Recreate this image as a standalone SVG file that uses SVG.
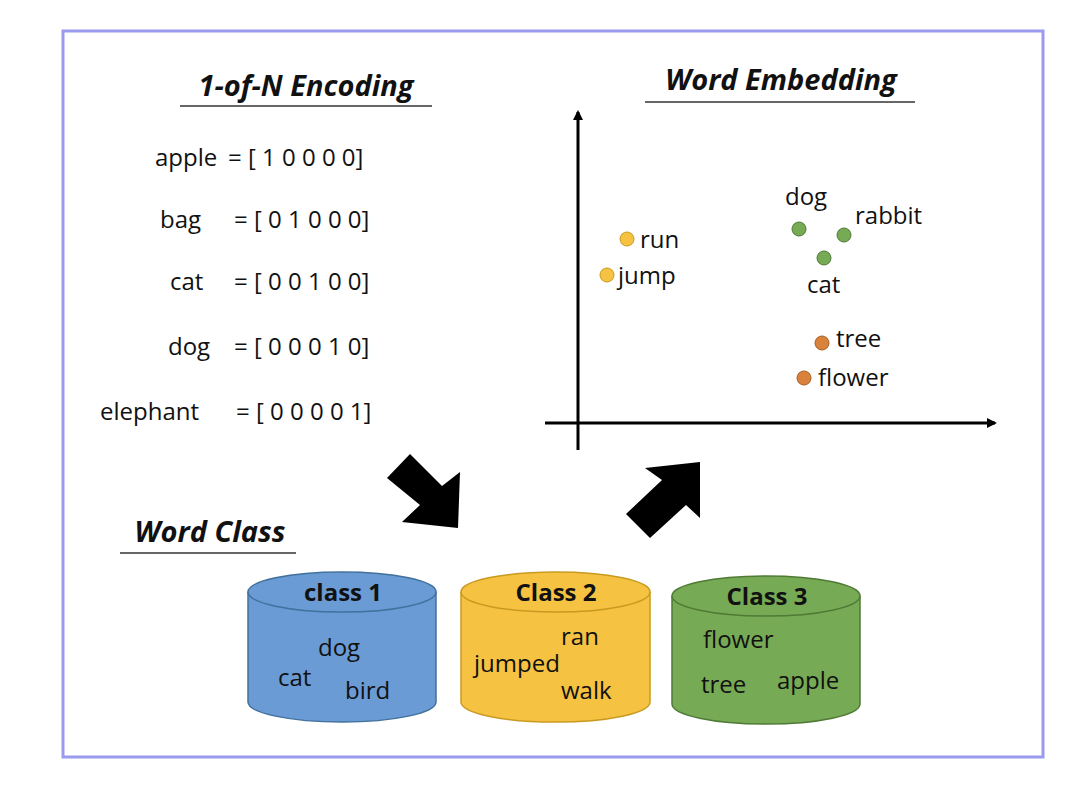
<svg xmlns="http://www.w3.org/2000/svg" width="1080" height="794" viewBox="0 0 1080 794">
<style>
text{font-family:"Open Sans","Noto Sans","Liberation Sans",sans-serif;fill:#111}
.t{font-size:24px}
.h{font-size:29px;font-weight:bold;font-style:italic}
.c{font-size:24px;font-weight:bold;text-anchor:middle}
.ul{stroke:#333;stroke-width:1.5}
.ax{stroke:#000;stroke-width:3;fill:none}
.dy{fill:#F5C242;stroke:#C99A20;stroke-width:1}
.dg{fill:#77AA55;stroke:#4F7A35;stroke-width:1}
.do{fill:#D9823B;stroke:#A85E20;stroke-width:1}
</style>
<defs>
<marker id="ah" markerWidth="10" markerHeight="10" refX="8" refY="5" orient="auto" markerUnits="userSpaceOnUse"><path d="M0,0 L10,5 L0,10 Z" fill="#000"/></marker>
</defs>
<rect width="1080" height="794" fill="#fff"/>
<rect x="63" y="31" width="980" height="726" fill="none" stroke="#9A9AEE" stroke-width="3"/>
<g id="encoding">
<text class="h" x="306" y="96" text-anchor="middle">1-of-N Encoding</text>
<line class="ul" x1="180" y1="106" x2="432" y2="106"/>
<g class="t">
<text class="t" x="155" y="166">apple</text><text class="t" x="228" y="166">= [ 1   0   0   0   0]</text>
<text class="t" x="160" y="228">bag</text><text class="t" x="234" y="228">= [ 0   1   0   0   0]</text>
<text class="t" x="170" y="290">cat</text><text class="t" x="234" y="290">= [ 0   0   1   0   0]</text>
<text class="t" x="168" y="355">dog</text><text class="t" x="234" y="355">= [ 0   0   0   1   0]</text>
<text class="t" x="100" y="420">elephant</text><text class="t" x="236" y="420">= [ 0   0   0   0   1]</text>
</g>
</g>
<g id="embedding">
<text class="h" x="781" y="90" text-anchor="middle">Word Embedding</text>
<line class="ul" x1="645" y1="102" x2="915" y2="102"/>
<line class="ax" x1="578" y1="450" x2="578" y2="112" marker-end="url(#ah)"/>
<line class="ax" x1="545" y1="423" x2="995" y2="423" marker-end="url(#ah)"/>
<circle class="dy" cx="627" cy="239" r="7"/><text class="t" x="640" y="248">run</text>
<circle class="dy" cx="607" cy="275" r="7"/><text class="t" x="618" y="284">jump</text>
<text class="t" x="785" y="205">dog</text><circle class="dg" cx="799" cy="229" r="7"/>
<text class="t" x="855" y="224">rabbit</text><circle class="dg" cx="844" cy="235" r="7"/>
<circle class="dg" cx="824" cy="258" r="7"/><text class="t" x="807" y="293">cat</text>
<circle class="do" cx="822" cy="343" r="7"/><text class="t" x="836" y="347">tree</text>
<circle class="do" cx="804" cy="378" r="7"/><text class="t" x="818" y="386">flower</text>
</g>
<g id="connectors">
<polygon points="410,454 442,486 460,472 458,528 402,522 420,505 387,478" fill="#000"/>
<polygon points="626,514 662,480 645,468 700,462 700,518 686,505 650,538" fill="#000"/>
</g>
<g id="wordclass">
<text class="h" x="210" y="542" text-anchor="middle">Word Class</text>
<line class="ul" x1="120" y1="553" x2="296" y2="553"/>
</g>
<g id="class1">
<path d="M248,592 V702 A94,20 0 0 0 436,702 V592" fill="#6A9BD4" stroke="#41719C" stroke-width="1.5"/>
<ellipse cx="342" cy="592" rx="94" ry="20" fill="#6A9BD4" stroke="#41719C" stroke-width="1.5"/>
<text class="c" x="343" y="601">class 1</text>
<text class="t" x="318" y="656">dog</text><text class="t" x="278" y="686">cat</text><text class="t" x="345" y="699">bird</text>
</g>
<g id="class2">
<path d="M461,592 V702 A94,20 0 0 0 650,702 V592" fill="#F5C242" stroke="#C99A20" stroke-width="1.5"/>
<ellipse cx="555.5" cy="592" rx="94.5" ry="20" fill="#F5C242" stroke="#C99A20" stroke-width="1.5"/>
<text class="c" x="556" y="601">Class 2</text>
<text class="t" x="561" y="645">ran</text><text class="t" x="474" y="672">jumped</text><text class="t" x="561" y="699">walk</text>
</g>
<g id="class3">
<path d="M672,596 V704 A94,20 0 0 0 860,704 V596" fill="#77AA55" stroke="#4F7A35" stroke-width="1.5"/>
<ellipse cx="766" cy="596" rx="94" ry="20" fill="#77AA55" stroke="#4F7A35" stroke-width="1.5"/>
<text class="c" x="767" y="605">Class 3</text>
<text class="t" x="703" y="648">flower</text><text class="t" x="701" y="693">tree</text><text class="t" x="777" y="689">apple</text>
</g>
</svg>
